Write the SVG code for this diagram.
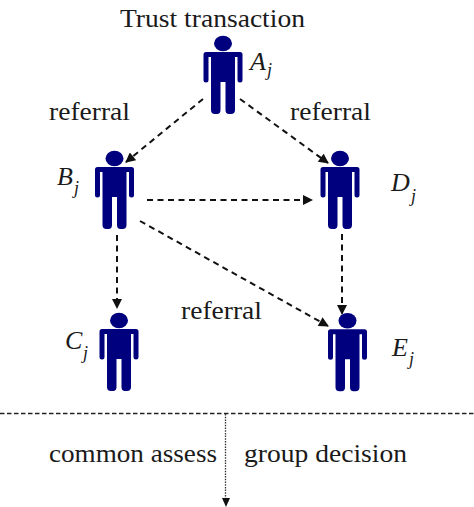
<svg xmlns="http://www.w3.org/2000/svg" width="474" height="507" viewBox="0 0 474 507">
<style>
text{font-family:"Liberation Serif","Times New Roman",serif;font-size:25px;fill:#1a1a1a}
.v{font-style:italic;font-size:26px}
.s{font-style:italic;font-size:18px}
.d{fill:none;stroke:#111;stroke-width:2;stroke-dasharray:6 4.5}
.h{fill:none;stroke:#222;stroke-width:1.6;stroke-dasharray:4.500 2.500}
.o{fill:none;stroke:#333;stroke-width:1.3;stroke-dasharray:1.500 1.200}
.p{fill:#00007f}
</style>
<defs>
<marker id="a" viewBox="0 0 10 10" refX="9" refY="5" markerWidth="11" markerHeight="10" markerUnits="userSpaceOnUse" orient="auto"><path d="M0 0L10 5L0 10Z" fill="#111"/></marker>
<symbol id="person" overflow="visible">
<ellipse cx="0" cy="-8.500" rx="9" ry="7.700"/>
<path d="M-17 0H17Q19.500 0 19.500 2.500V28Q19.500 30.500 17 30.500Q14.500 30.500 14.500 28V5H12V58Q12 62 8 62H6Q2.500 62 2.500 58V30H-2.500V58Q-2.500 62 -6 62H-8Q-12 62 -12 58V5H-14.500V28Q-14.500 30.500 -17 30.500Q-19.500 30.500 -19.500 28V2.500Q-19.500 0 -17 0Z"/>
</symbol>
</defs>
<g id="connectors">
<path class="d" d="M203 99L126 162" marker-end="url(#a)"/>
<path class="d" d="M240 99L328 163" marker-end="url(#a)"/>
<path class="d" d="M147 200H312" marker-end="url(#a)"/>
<path class="d" d="M140 221L328 326" marker-end="url(#a)"/>
<path class="d" d="M117 235V308" marker-end="url(#a)"/>
<path class="d" d="M342 234V314" marker-end="url(#a)"/>
<path class="h" d="M0 413.500H474"/>
<path class="o" d="M225.500 414V499"/>
<path d="M222 498H230L226 507Z" fill="#111"/>
</g>
<g id="title"><text x="120" y="27" textLength="185" lengthAdjust="spacingAndGlyphs">Trust transaction</text></g>
<g id="node-a" class="p"><use href="#person" x="223" y="52"/><text class="v" x="250" y="70">A</text><text class="s" x="267" y="76">j</text></g>
<g id="node-b" class="p"><use href="#person" x="114.500" y="167"/><text class="v" x="57" y="185">B</text><text class="s" x="74" y="194">j</text></g>
<g id="node-d" class="p"><use href="#person" x="340" y="167"/><text class="v" x="391" y="191">D</text><text class="s" x="411" y="202">j</text></g>
<g id="node-c" class="p"><use href="#person" x="119" y="329"/><text class="v" x="65" y="349">C</text><text class="s" x="83" y="359">j</text></g>
<g id="node-e" class="p"><use href="#person" x="347.500" y="329.300"/><text class="v" x="392" y="356">E</text><text class="s" x="409" y="365">j</text></g>
<g id="labels">
<text x="49" y="119.500" textLength="81" lengthAdjust="spacingAndGlyphs">referral</text>
<text x="290" y="119.500" textLength="81" lengthAdjust="spacingAndGlyphs">referral</text>
<text x="181" y="318.500" textLength="81" lengthAdjust="spacingAndGlyphs">referral</text>
<text x="49" y="461.500" textLength="168" lengthAdjust="spacingAndGlyphs">common assess</text>
<text x="244" y="461.500" textLength="163" lengthAdjust="spacingAndGlyphs">group decision</text>
</g>
</svg>
